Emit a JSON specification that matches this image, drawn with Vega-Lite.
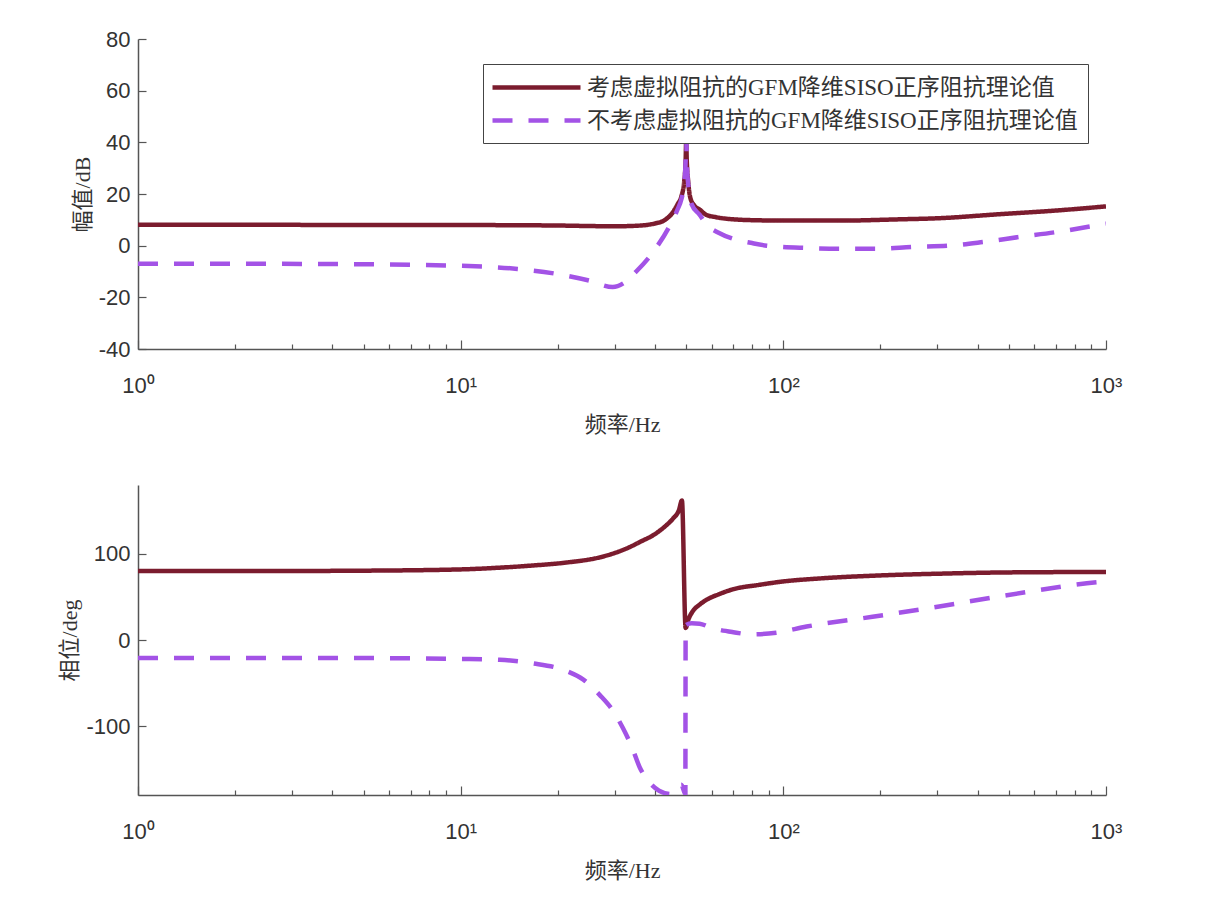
{
  "$schema": "https://vega.github.io/schema/vega-lite/v6.json",
  "background": "white",
  "padding": {"left": 58, "top": 28, "right": 10, "bottom": 5},
  "config": {
    "view": {"stroke": null},
    "axis": {
      "grid": false,
      "domainColor": "#555555",
      "domainWidth": 1.5,
      "tickColor": "#555555",
      "tickWidth": 1.2,
      "labelFont": "Liberation Sans",
      "labelFontSize": 22,
      "labelColor": "#333333",
      "labelFlush": false,
      "labelOverlap": false,
      "titleFont": "Liberation Serif, Noto Sans CJK SC",
      "titleFontSize": 22,
      "titleFontWeight": "normal",
      "titleColor": "#333333"
    },
    "legend": {
      "title": null,
      "fillColor": "white",
      "strokeColor": "#444444",
      "padding": 10,
      "symbolType": "M-4,0L4,0",
      "symbolSize": 484,
      "symbolStrokeWidth": 4.5,
      "symbolOffset": 30,
      "labelOffset": 37,
      "labelFont": "Liberation Serif, Noto Sans CJK SC",
      "labelFontSize": 23,
      "labelColor": "#333333",
      "labelLimit": 700,
      "rowPadding": 7
    }
  },
  "datasets": {
    "mag": [
      {"f": 1, "v": 8.1, "s": "考虑虚拟阻抗的GFM降维SISO正序阻抗理论值"},
      {"f": 2, "v": 8.1, "s": "考虑虚拟阻抗的GFM降维SISO正序阻抗理论值"},
      {"f": 5, "v": 8.0, "s": "考虑虚拟阻抗的GFM降维SISO正序阻抗理论值"},
      {"f": 10, "v": 8.0, "s": "考虑虚拟阻抗的GFM降维SISO正序阻抗理论值"},
      {"f": 15, "v": 7.9, "s": "考虑虚拟阻抗的GFM降维SISO正序阻抗理论值"},
      {"f": 20, "v": 7.8, "s": "考虑虚拟阻抗的GFM降维SISO正序阻抗理论值"},
      {"f": 25, "v": 7.6, "s": "考虑虚拟阻抗的GFM降维SISO正序阻抗理论值"},
      {"f": 30, "v": 7.5, "s": "考虑虚拟阻抗的GFM降维SISO正序阻抗理论值"},
      {"f": 35, "v": 7.7, "s": "考虑虚拟阻抗的GFM降维SISO正序阻抗理论值"},
      {"f": 40, "v": 8.6, "s": "考虑虚拟阻抗的GFM降维SISO正序阻抗理论值"},
      {"f": 43, "v": 10, "s": "考虑虚拟阻抗的GFM降维SISO正序阻抗理论值"},
      {"f": 45.5, "v": 13, "s": "考虑虚拟阻抗的GFM降维SISO正序阻抗理论值"},
      {"f": 47, "v": 16, "s": "考虑虚拟阻抗的GFM降维SISO正序阻抗理论值"},
      {"f": 48.3, "v": 19, "s": "考虑虚拟阻抗的GFM降维SISO正序阻抗理论值"},
      {"f": 49.3, "v": 25, "s": "考虑虚拟阻抗的GFM降维SISO正序阻抗理论值"},
      {"f": 49.8, "v": 33, "s": "考虑虚拟阻抗的GFM降维SISO正序阻抗理论值"},
      {"f": 50, "v": 40.5, "s": "考虑虚拟阻抗的GFM降维SISO正序阻抗理论值"},
      {"f": 50.2, "v": 33, "s": "考虑虚拟阻抗的GFM降维SISO正序阻抗理论值"},
      {"f": 50.7, "v": 25, "s": "考虑虚拟阻抗的GFM降维SISO正序阻抗理论值"},
      {"f": 51.5, "v": 18.5, "s": "考虑虚拟阻抗的GFM降维SISO正序阻抗理论值"},
      {"f": 53, "v": 15.5, "s": "考虑虚拟阻抗的GFM降维SISO正序阻抗理论值"},
      {"f": 55, "v": 14, "s": "考虑虚拟阻抗的GFM降维SISO正序阻抗理论值"},
      {"f": 57.6, "v": 12, "s": "考虑虚拟阻抗的GFM降维SISO正序阻抗理论值"},
      {"f": 62, "v": 11, "s": "考虑虚拟阻抗的GFM降维SISO正序阻抗理论值"},
      {"f": 70, "v": 10.2, "s": "考虑虚拟阻抗的GFM降维SISO正序阻抗理论值"},
      {"f": 85, "v": 9.8, "s": "考虑虚拟阻抗的GFM降维SISO正序阻抗理论值"},
      {"f": 100, "v": 9.7, "s": "考虑虚拟阻抗的GFM降维SISO正序阻抗理论值"},
      {"f": 150, "v": 9.7, "s": "考虑虚拟阻抗的GFM降维SISO正序阻抗理论值"},
      {"f": 230, "v": 10.2, "s": "考虑虚拟阻抗的GFM降维SISO正序阻抗理论值"},
      {"f": 300, "v": 10.6, "s": "考虑虚拟阻抗的GFM降维SISO正序阻抗理论值"},
      {"f": 470, "v": 12.2, "s": "考虑虚拟阻抗的GFM降维SISO正序阻抗理论值"},
      {"f": 700, "v": 13.6, "s": "考虑虚拟阻抗的GFM降维SISO正序阻抗理论值"},
      {"f": 1000, "v": 15.2, "s": "考虑虚拟阻抗的GFM降维SISO正序阻抗理论值"},
      {"f": 1, "v": -7, "s": "不考虑虚拟阻抗的GFM降维SISO正序阻抗理论值"},
      {"f": 2, "v": -7, "s": "不考虑虚拟阻抗的GFM降维SISO正序阻抗理论值"},
      {"f": 5, "v": -7.2, "s": "不考虑虚拟阻抗的GFM降维SISO正序阻抗理论值"},
      {"f": 10, "v": -7.8, "s": "不考虑虚拟阻抗的GFM降维SISO正序阻抗理论值"},
      {"f": 15, "v": -9, "s": "不考虑虚拟阻抗的GFM降维SISO正序阻抗理论值"},
      {"f": 20, "v": -11, "s": "不考虑虚拟阻抗的GFM降维SISO正序阻抗理论值"},
      {"f": 25, "v": -13.5, "s": "不考虑虚拟阻抗的GFM降维SISO正序阻抗理论值"},
      {"f": 29.6, "v": -16, "s": "不考虑虚拟阻抗的GFM降维SISO正序阻抗理论值"},
      {"f": 32, "v": -14.5, "s": "不考虑虚拟阻抗的GFM降维SISO正序阻抗理论值"},
      {"f": 35, "v": -10, "s": "不考虑虚拟阻抗的GFM降维SISO正序阻抗理论值"},
      {"f": 40, "v": -1.5, "s": "不考虑虚拟阻抗的GFM降维SISO正序阻抗理论值"},
      {"f": 45, "v": 9, "s": "不考虑虚拟阻抗的GFM降维SISO正序阻抗理论值"},
      {"f": 47, "v": 14, "s": "不考虑虚拟阻抗的GFM降维SISO正序阻抗理论值"},
      {"f": 48.3, "v": 18, "s": "不考虑虚拟阻抗的GFM降维SISO正序阻抗理论值"},
      {"f": 49.3, "v": 24, "s": "不考虑虚拟阻抗的GFM降维SISO正序阻抗理论值"},
      {"f": 49.8, "v": 33, "s": "不考虑虚拟阻抗的GFM降维SISO正序阻抗理论值"},
      {"f": 50, "v": 42, "s": "不考虑虚拟阻抗的GFM降维SISO正序阻抗理论值"},
      {"f": 50.2, "v": 33, "s": "不考虑虚拟阻抗的GFM降维SISO正序阻抗理论值"},
      {"f": 50.7, "v": 24, "s": "不考虑虚拟阻抗的GFM降维SISO正序阻抗理论值"},
      {"f": 52, "v": 16, "s": "不考虑虚拟阻抗的GFM降维SISO正序阻抗理论值"},
      {"f": 55, "v": 12, "s": "不考虑虚拟阻抗的GFM降维SISO正序阻抗理论值"},
      {"f": 58, "v": 8, "s": "不考虑虚拟阻抗的GFM降维SISO正序阻抗理论值"},
      {"f": 63, "v": 5, "s": "不考虑虚拟阻抗的GFM降维SISO正序阻抗理论值"},
      {"f": 70, "v": 2.6, "s": "不考虑虚拟阻抗的GFM降维SISO正序阻抗理论值"},
      {"f": 80, "v": 1, "s": "不考虑虚拟阻抗的GFM降维SISO正序阻抗理论值"},
      {"f": 89, "v": 0, "s": "不考虑虚拟阻抗的GFM降维SISO正序阻抗理论值"},
      {"f": 118, "v": -0.9, "s": "不考虑虚拟阻抗的GFM降维SISO正序阻抗理论值"},
      {"f": 150, "v": -1.2, "s": "不考虑虚拟阻抗的GFM降维SISO正序阻抗理论值"},
      {"f": 195, "v": -1.2, "s": "不考虑虚拟阻抗的GFM降维SISO正序阻抗理论值"},
      {"f": 252, "v": -0.5, "s": "不考虑虚拟阻抗的GFM降维SISO正序阻抗理论值"},
      {"f": 328, "v": 0, "s": "不考虑虚拟阻抗的GFM降维SISO正序阻抗理论值"},
      {"f": 415, "v": 1.4, "s": "不考虑虚拟阻抗的GFM降维SISO正序阻抗理论值"},
      {"f": 541, "v": 3.4, "s": "不考虑虚拟阻抗的GFM降维SISO正序阻抗理论值"},
      {"f": 704, "v": 5.3, "s": "不考虑虚拟阻抗的GFM降维SISO正序阻抗理论值"},
      {"f": 911, "v": 7.6, "s": "不考虑虚拟阻抗的GFM降维SISO正序阻抗理论值"},
      {"f": 1000, "v": 8.5, "s": "不考虑虚拟阻抗的GFM降维SISO正序阻抗理论值"}
    ],
    "phase": [
      {"f": 1, "v": 80, "s": "考虑虚拟阻抗的GFM降维SISO正序阻抗理论值"},
      {"f": 2, "v": 80, "s": "考虑虚拟阻抗的GFM降维SISO正序阻抗理论值"},
      {"f": 5, "v": 80.5, "s": "考虑虚拟阻抗的GFM降维SISO正序阻抗理论值"},
      {"f": 10, "v": 82, "s": "考虑虚拟阻抗的GFM降维SISO正序阻抗理论值"},
      {"f": 13.2, "v": 84, "s": "考虑虚拟阻抗的GFM降维SISO正序阻抗理论值"},
      {"f": 16.7, "v": 86.5, "s": "考虑虚拟阻抗的GFM降维SISO正序阻抗理论值"},
      {"f": 21.3, "v": 90, "s": "考虑虚拟阻抗的GFM降维SISO正序阻抗理论值"},
      {"f": 27, "v": 96, "s": "考虑虚拟阻抗的GFM降维SISO正序阻抗理论值"},
      {"f": 30, "v": 101, "s": "考虑虚拟阻抗的GFM降维SISO正序阻抗理论值"},
      {"f": 33, "v": 107, "s": "考虑虚拟阻抗的GFM降维SISO正序阻抗理论值"},
      {"f": 36, "v": 114, "s": "考虑虚拟阻抗的GFM降维SISO正序阻抗理论值"},
      {"f": 40, "v": 123, "s": "考虑虚拟阻抗的GFM降维SISO正序阻抗理论值"},
      {"f": 43, "v": 132, "s": "考虑虚拟阻抗的GFM降维SISO正序阻抗理论值"},
      {"f": 45.5, "v": 141, "s": "考虑虚拟阻抗的GFM降维SISO正序阻抗理论值"},
      {"f": 47.5, "v": 151, "s": "考虑虚拟阻抗的GFM降维SISO正序阻抗理论值"},
      {"f": 48.5, "v": 162, "s": "考虑虚拟阻抗的GFM降维SISO正序阻抗理论值"},
      {"f": 49.8, "v": 14, "s": "考虑虚拟阻抗的GFM降维SISO正序阻抗理论值"},
      {"f": 50.8, "v": 24, "s": "考虑虚拟阻抗的GFM降维SISO正序阻抗理论值"},
      {"f": 52.3, "v": 33, "s": "考虑虚拟阻抗的GFM降维SISO正序阻抗理论值"},
      {"f": 55, "v": 41, "s": "考虑虚拟阻抗的GFM降维SISO正序阻抗理论值"},
      {"f": 58, "v": 47, "s": "考虑虚拟阻抗的GFM降维SISO正序阻抗理论值"},
      {"f": 63, "v": 53, "s": "考虑虚拟阻抗的GFM降维SISO正序阻抗理论值"},
      {"f": 70, "v": 59, "s": "考虑虚拟阻抗的GFM降维SISO正序阻抗理论值"},
      {"f": 84, "v": 64, "s": "考虑虚拟阻抗的GFM降维SISO正序阻抗理论值"},
      {"f": 100, "v": 68, "s": "考虑虚拟阻抗的GFM降维SISO正序阻抗理论值"},
      {"f": 130, "v": 71.5, "s": "考虑虚拟阻抗的GFM降维SISO正序阻抗理论值"},
      {"f": 200, "v": 75, "s": "考虑虚拟阻抗的GFM降维SISO正序阻抗理论值"},
      {"f": 304, "v": 77, "s": "考虑虚拟阻抗的GFM降维SISO正序阻抗理论值"},
      {"f": 500, "v": 78.5, "s": "考虑虚拟阻抗的GFM降维SISO正序阻抗理论值"},
      {"f": 1000, "v": 79, "s": "考虑虚拟阻抗的GFM降维SISO正序阻抗理论值"},
      {"f": 1, "v": -21, "s": "不考虑虚拟阻抗的GFM降维SISO正序阻抗理论值"},
      {"f": 5, "v": -21, "s": "不考虑虚拟阻抗的GFM降维SISO正序阻抗理论值"},
      {"f": 10, "v": -22, "s": "不考虑虚拟阻抗的GFM降维SISO正序阻抗理论值"},
      {"f": 13.2, "v": -23, "s": "不考虑虚拟阻抗的GFM降维SISO正序阻抗理论值"},
      {"f": 16.7, "v": -27, "s": "不考虑虚拟阻抗的GFM降维SISO正序阻抗理论值"},
      {"f": 21.3, "v": -36, "s": "不考虑虚拟阻抗的GFM降维SISO正序阻抗理论值"},
      {"f": 24, "v": -46, "s": "不考虑虚拟阻抗的GFM降维SISO正序阻抗理论值"},
      {"f": 27, "v": -64, "s": "不考虑虚拟阻抗的GFM降维SISO正序阻抗理论值"},
      {"f": 30, "v": -85, "s": "不考虑虚拟阻抗的GFM降维SISO正序阻抗理论值"},
      {"f": 31.8, "v": -102, "s": "不考虑虚拟阻抗的GFM降维SISO正序阻抗理论值"},
      {"f": 34, "v": -125, "s": "不考虑虚拟阻抗的GFM降维SISO正序阻抗理论值"},
      {"f": 35.9, "v": -148, "s": "不考虑虚拟阻抗的GFM降维SISO正序阻抗理论值"},
      {"f": 38, "v": -163, "s": "不考虑虚拟阻抗的GFM降维SISO正序阻抗理论值"},
      {"f": 41.2, "v": -175, "s": "不考虑虚拟阻抗的GFM降维SISO正序阻抗理论值"},
      {"f": 45, "v": -179, "s": "不考虑虚拟阻抗的GFM降维SISO正序阻抗理论值"},
      {"f": 48.3, "v": -168, "s": "不考虑虚拟阻抗的GFM降维SISO正序阻抗理论值"},
      {"f": 49.7, "v": -179, "s": "不考虑虚拟阻抗的GFM降维SISO正序阻抗理论值"},
      {"f": 49.8, "v": 17, "s": "不考虑虚拟阻抗的GFM降维SISO正序阻抗理论值"},
      {"f": 52, "v": 19.5, "s": "不考虑虚拟阻抗的GFM降维SISO正序阻抗理论值"},
      {"f": 55, "v": 19, "s": "不考虑虚拟阻抗的GFM降维SISO正序阻抗理论值"},
      {"f": 60, "v": 14, "s": "不考虑虚拟阻抗的GFM降维SISO正序阻抗理论值"},
      {"f": 70, "v": 9, "s": "不考虑虚拟阻抗的GFM降维SISO正序阻抗理论值"},
      {"f": 80, "v": 6.5, "s": "不考虑虚拟阻抗的GFM降维SISO正序阻抗理论值"},
      {"f": 95, "v": 8.5, "s": "不考虑虚拟阻抗的GFM降维SISO正序阻抗理论值"},
      {"f": 118, "v": 15.6, "s": "不考虑虚拟阻抗的GFM降维SISO正序阻抗理论值"},
      {"f": 189, "v": 27, "s": "不考虑虚拟阻抗的GFM降维SISO正序阻抗理论值"},
      {"f": 304, "v": 39, "s": "不考虑虚拟阻抗的GFM降维SISO正序阻抗理论值"},
      {"f": 493, "v": 52, "s": "不考虑虚拟阻抗的GFM降维SISO正序阻抗理论值"},
      {"f": 934, "v": 67, "s": "不考虑虚拟阻抗的GFM降维SISO正序阻抗理论值"},
      {"f": 1000, "v": 68, "s": "不考虑虚拟阻抗的GFM降维SISO正序阻抗理论值"}
    ]
  },
  "spacing": 50,
  "resolve": {
    "scale": {"color": "independent", "strokeDash": "independent"},
    "legend": {"color": "independent", "strokeDash": "independent"}
  },
  "vconcat": [
    {
      "width": 968,
      "height": 310,
      "data": {"name": "mag"},
      "mark": {"type": "line", "strokeWidth": 4.5, "clip": true, "interpolate": "monotone"},
      "encoding": {
        "x": {
          "field": "f", "type": "quantitative",
          "scale": {"type": "log", "domain": [1, 1000]},
          "axis": {
            "title": "频率/Hz",
            "values": [1,2,3,4,5,6,7,8,9,10,20,30,40,50,60,70,80,90,100,200,300,400,500,600,700,800,900,1000],
            "labelExpr": "datum.value == 1 ? '10⁰' : datum.value == 10 ? '10¹' : datum.value == 100 ? '10²' : datum.value == 1000 ? '10³' : ''",
            "tickSize": {"condition": {"test": "indexof([1,10,100,1000], datum.value) >= 0", "value": -9}, "value": -5},
            "labelPadding": 35,
            "titlePadding": 14
          }
        },
        "y": {
          "field": "v", "type": "quantitative",
          "scale": {"domain": [-40, 80], "nice": false, "zero": false},
          "axis": {"title": "幅值/dB", "values": [-40,-20,0,20,40,60,80], "labelExpr": "datum.value < 0 ? '-' + abs(datum.value) : '' + datum.value", "tickSize": -8, "labelPadding": 16, "titlePadding": 4}
        },
        "color": {
          "field": "s", "type": "nominal",
          "scale": {"domain": ["考虑虚拟阻抗的GFM降维SISO正序阻抗理论值", "不考虑虚拟阻抗的GFM降维SISO正序阻抗理论值"], "range": ["#7B1C2E", "#A353E6"]},
          "legend": {"orient": "none", "legendX": 345, "legendY": 25}
        },
        "strokeDash": {
          "field": "s", "type": "nominal",
          "scale": {"domain": ["考虑虚拟阻抗的GFM降维SISO正序阻抗理论值", "不考虑虚拟阻抗的GFM降维SISO正序阻抗理论值"], "range": [[1, 0], [20, 16]]},
          "legend": {"orient": "none", "legendX": 345, "legendY": 25}
        }
      }
    },
    {
      "width": 968,
      "height": 310,
      "data": {"name": "phase"},
      "mark": {"type": "line", "strokeWidth": 4.5, "clip": true, "interpolate": "monotone"},
      "encoding": {
        "x": {
          "field": "f", "type": "quantitative",
          "scale": {"type": "log", "domain": [1, 1000]},
          "axis": {
            "title": "频率/Hz",
            "values": [1,2,3,4,5,6,7,8,9,10,20,30,40,50,60,70,80,90,100,200,300,400,500,600,700,800,900,1000],
            "labelExpr": "datum.value == 1 ? '10⁰' : datum.value == 10 ? '10¹' : datum.value == 100 ? '10²' : datum.value == 1000 ? '10³' : ''",
            "tickSize": {"condition": {"test": "indexof([1,10,100,1000], datum.value) >= 0", "value": -9}, "value": -5},
            "labelPadding": 35,
            "titlePadding": 14
          }
        },
        "y": {
          "field": "v", "type": "quantitative",
          "scale": {"domain": [-180, 180], "nice": false, "zero": false},
          "axis": {"title": "相位/deg", "values": [-100, 0, 100], "labelExpr": "datum.value < 0 ? '-' + abs(datum.value) : '' + datum.value", "tickSize": -8, "labelPadding": 16, "titlePadding": 4}
        },
        "color": {
          "field": "s", "type": "nominal",
          "scale": {"domain": ["考虑虚拟阻抗的GFM降维SISO正序阻抗理论值", "不考虑虚拟阻抗的GFM降维SISO正序阻抗理论值"], "range": ["#7B1C2E", "#A353E6"]},
          "legend": null
        },
        "strokeDash": {
          "field": "s", "type": "nominal",
          "scale": {"domain": ["考虑虚拟阻抗的GFM降维SISO正序阻抗理论值", "不考虑虚拟阻抗的GFM降维SISO正序阻抗理论值"], "range": [[1, 0], [20, 16]]},
          "legend": null
        }
      }
    }
  ]
}
